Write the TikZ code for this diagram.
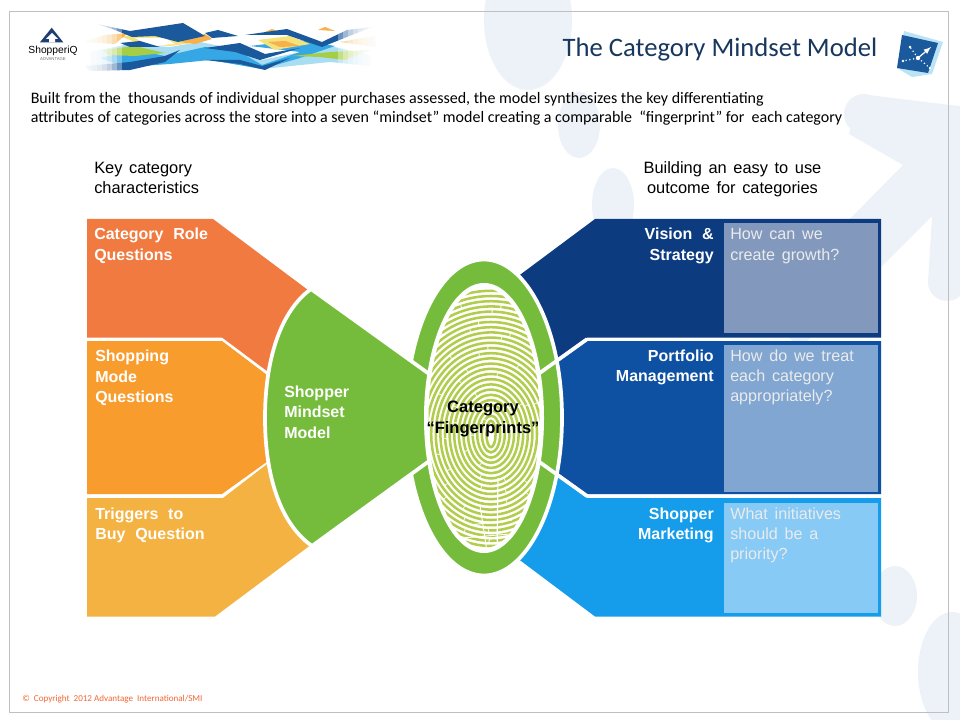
\documentclass[tikz,border=0pt]{standalone}
\usepackage{fontspec}
\setmainfont{Carlito}
\newfontfamily\arreg{Liberation Sans}
\newfontfamily\arbold[WordSpace=2.2]{Liberation Sans Bold}
\definecolor{pale}{HTML}{EDF2F8}
\definecolor{frameline}{HTML}{BFBFBF}
\definecolor{cOrA}{HTML}{F07A40}
\definecolor{cOrB}{HTML}{F99C2E}
\definecolor{cOrC}{HTML}{F4B242}
\definecolor{cGreen}{HTML}{76BC3C}
\definecolor{cBlA}{HTML}{0C3B80}
\definecolor{cBlB}{HTML}{0E50A2}
\definecolor{cBlC}{HTML}{159CEA}
\definecolor{cBoxA}{HTML}{8299BD}
\definecolor{cBoxB}{HTML}{80A6D1}
\definecolor{cBoxC}{HTML}{87CAF6}
\definecolor{cPrint}{HTML}{B2CD4E}
\definecolor{cTitle}{HTML}{17375E}
\definecolor{cNavy}{HTML}{1A5A9C}
\definecolor{cDeep}{HTML}{1F3F73}
\definecolor{cSky}{HTML}{35A7E4}
\definecolor{cIce}{HTML}{A9DDF2}
\definecolor{cAmber}{HTML}{F7B04C}
\definecolor{cLime}{HTML}{A6CE45}
\definecolor{cLemon}{HTML}{F6E27A}
\tikzset{
  x=0.75pt,y=-0.75pt,
  gaponly/.style={draw=white,line width=2.8pt,line join=miter},
  lbl/.style={inner sep=0pt,text=white,font=\arbold\fontsize{12}{15.3}\selectfont},
  lblL/.style={lbl,anchor=base west,align=left},
  lblR/.style={lbl,anchor=base east,align=right},
  ask/.style={inner sep=0pt,anchor=base west,align=left,text=white!92!black,font=\arreg\fontsize{12.1}{15.3}\selectfont,execute at begin node={\spaceskip=5.1pt\relax}},
  head/.style={inner sep=0pt,text=black,font=\arreg\fontsize{12.3}{15}\selectfont,execute at begin node={\spaceskip=4.95pt\relax}},
  ridge/.style={draw=cPrint,line width=1.9pt},
}
\begin{document}
\begin{tikzpicture}
\useasboundingbox (0,0) rectangle (960,720);
\fill[white] (0,0) rectangle (960,720);
% watermark
\begin{scope}
\clip (0,0) rectangle (960,720);
\fill[pale] (528,20) ellipse [x radius=44,y radius=70];
\fill[pale] (579,125) ellipse [x radius=21,y radius=33];
\fill[pale] (613,205) ellipse [x radius=21,y radius=37];
\fill[pale] (895,596) ellipse [x radius=22,y radius=30];
\fill[pale] (952,672) ellipse [x radius=34,y radius=60];
\fill[pale] (864,114) circle [radius=20];
\fill[pale] (947,282) circle [radius=19];
\fill[pale] (860,94) -- (975,108) -- (975,282) -- (928,282) -- (932,216) -- (903,165) -- (849,134) -- cycle;
\fill[pale] (903,165) -- (932,216) -- (800,348) -- (760,310) -- cycle;
\end{scope}
\draw[frameline,line width=0.8pt] (9.5,11.5) rectangle (948.5,712.5);
% banner
\fill[cIce] (90,52) -- (130,44) -- (170,47) -- (200,42) -- (240,50) -- (262,60) -- (330,46) -- (370,55) -- (370,66) -- (330,62) -- (262,69) -- (200,58) -- (130,68) -- (90,66) -- cycle;
\fill[cSky] (100,58) -- (135,50) -- (165,56) -- (205,47) -- (240,52) -- (262,65) -- (300,52) -- (250,46) -- (300,40) -- (335,46) -- (300,58) -- (262,69) -- (210,60) -- (170,64) -- (125,67) -- cycle;
\fill[cLemon] (120,36) -- (185,36) -- (200,42) -- (170,46) -- (140,44) -- cycle;
\fill[white] (135,38) -- (165,38) -- (175,44) -- (150,46) -- cycle;
\fill[cAmber] (85,42) -- (105,35) -- (128,33) -- (115,44) -- cycle;
\fill[cAmber] (180,42) -- (205,34) -- (212,39) -- (195,44) -- cycle;
\fill[cAmber] (265,32) -- (272,29) -- (280,32) -- cycle;
\fill[cAmber] (318,30) -- (325,27) -- (335,31) -- cycle;
\fill[cAmber] (340,42) -- (375,36) -- (375,47) -- cycle;
\fill[cLemon] (258,40) -- (290,36) -- (310,44) -- (275,50) -- cycle;
\fill[cAmber] (268,42) -- (285,41) -- (300,46) -- (280,47) -- cycle;
\fill[cLime] (102,50) -- (135,46) -- (165,53) -- (135,56) -- (108,55) -- cycle;
\fill[cLime] (292,56) -- (330,52) -- (370,50) -- (345,60) -- (320,57) -- cycle;
\fill[cNavy] (97,24) -- (130,31) -- (183,23) -- (205,36) -- (178,42) -- (155,36) -- (132,37) -- (115,30) -- cycle;
\fill[cNavy] (205,33) -- (218,30) -- (238,36) -- (212,38) -- cycle;
\fill[cNavy] (245,35) -- (287,29) -- (322,42) -- (347,30) -- (372,27) -- (322,47) -- (287,35) -- cycle;
\fill[cNavy] (120,43) -- (140,41) -- (160,47) -- (130,47) -- cycle;
\fill[cNavy] (205,48) -- (240,43) -- (265,54) -- (300,48) -- (260,60) -- (235,52) -- cycle;
\fill[cNavy] (85,66) -- (130,62) -- (165,56) -- (180,50) -- (165,62) -- (130,70) -- (90,71) -- cycle;
\fill[cNavy] (205,60) -- (240,64) -- (265,70) -- (290,58) -- (262,66) -- (240,60) -- cycle;
\foreach \i in {0,...,7}{
  \fill[white,opacity=0.35] (78,20) rectangle (122-\i*5,73);
  \fill[white,opacity=0.35] (338+\i*5,20) rectangle (380,73);
}
% logo
\fill[cDeep] (51.7,27.7) -- (63.3,42.3) -- (40,42.3) -- cycle;
\fill[white] (52,33) -- (58,39) -- (55,39) -- (55,42.5) -- (49,42.5) -- (49,39) -- (46,39) -- cycle;
\node[inner sep=0pt,anchor=base] (logoname) at (53,54) {\fontspec{Liberation Sans}\fontsize{7.7}{9}\selectfont ShopperiQ};
\node[inner sep=0pt,anchor=base,text=black!55] (logosub) at (53,61) {\fontspec{Liberation Sans}\fontsize{3.2}{4}\selectfont ADVANTAGE};
% icon
\fill[cIce!80!white] (904,31) -- (943,42) -- (932,74) -- (912,77) -- (897,68) -- cycle;
\fill[cNavy] (902,35) -- (938,43) -- (928,73) -- (897,68) -- cycle;
\draw[white,line width=0.9pt,-latex] (918,58) -- (931,47);
\draw[white,line width=0.9pt,dotted] (918,58) -- (910,47);
\draw[white,line width=0.9pt,dotted] (918,58) -- (903,61);
\draw[white,line width=0.9pt,dotted] (918,58) -- (930,68);
\fill[white] (918,58) circle [radius=2.2] (910,47) circle [radius=1.4] (903,61) circle [radius=1.4] (930,68) circle [radius=1.4];
% texts at the top
\node[inner sep=0pt,anchor=base east,text=cTitle,font=\fontsize{20}{24}\selectfont] (title) at (877.5,57) {The Category Mindset Model};
\node[inner sep=0pt,anchor=base west,text=black,align=left,font=\fontsize{12}{14.75}\selectfont] (intro) at (30.5,122.7)
 {Built from the\ \ thousands of individual shopper purchases assessed, the model synthesizes the key differentiating\\
  attributes of categories across the store into a seven “mindset” model creating a comparable\ \ “fingerprint” for\ \ each category};
\node[head,anchor=base west,align=left] (hleft) at (94,194) {Key category\\characteristics};
\node[head,anchor=base,align=center] (hright) at (732.5,194) {Building an easy to use\\outcome for categories};
% left bands
\fill[cOrA] (87,219) -- (213,219) -- (320,299) -- (275,377) -- (222,337.5) -- (87,337.5) -- cycle;
\fill[cOrB] (87,341) -- (222,341) -- (275,381) -- (275,456) -- (222,494) -- (87,494) -- cycle;
\fill[cOrC] (87,498) -- (223,498) -- (275,458) -- (320,538) -- (215,616.5) -- (87,616.5) -- cycle;
% right bands
\fill[cBlA] (505,286) -- (595,219) -- (881,219) -- (881,337.5) -- (587,337.5) -- (540,371) -- cycle;
\fill[cBlB] (540,375) -- (587,341) -- (881,341) -- (881,494) -- (587,494) -- (540,460) -- cycle;
\fill[cBlC] (540,464) -- (587,498) -- (881,498) -- (881,616.5) -- (595,616.5) -- (505,549) -- cycle;
\fill[cBoxA] (724,223) rectangle (878,333);
\fill[cBoxB] (724,345) rectangle (878,491.5);
\fill[cBoxC] (724,502.5) rectangle (878,612.5);
% ring
\filldraw[fill=cGreen,gaponly] (484,417.5) ellipse [x radius=78,y radius=158];
\draw[white,line width=2.8pt] (587,339.2) -- (540,372.8);
\draw[white,line width=2.8pt] (587,496) -- (540,462.4);
% left wedge
\filldraw[fill=cGreen,gaponly] (311,289) .. controls (278,313) and (265,365) .. (265,418) .. controls (265,471) and (278,522) .. (312,546) -- (432,459) -- (432,376) -- cycle;
% centre with print
\fill[white] (484,418) ellipse [x radius=60,y radius=135];
\begin{scope}
\clip (484,418) ellipse [x radius=55.5,y radius=130];
\foreach \i in {1,...,32}{
  \pgfmathsetmacro{\rx}{\i*4.6}
  \pgfmathsetmacro{\ry}{\i*5.2+8}
  \pgfmathsetmacro{\ph}{mod(\i*13,37)}
  \draw[ridge,dash pattern=on 70pt off 0.7pt,dash phase=\ph pt] (491,434) ellipse [x radius=\rx,y radius=\ry];
}
\draw[white,line width=0.9pt] (498,478) -- (497,552);
\draw[white,line width=0.7pt] (480,505) -- (487,552);
\draw[white,line width=0.7pt] (470,525) -- (512,520);
\draw[white,line width=0.7pt] (462,538) -- (510,534);
\end{scope}
% band labels
\node[lblL] (roleq) at (94,260.4) {Category Role\\Questions};
\node[lblL] (modeq) at (95,402.5) {Shopping\\Mode\\Questions};
\node[lblL] (trigq) at (95,539.5) {Triggers to\\Buy Question};
\node[lblL] (mindset) at (284,438) {Shopper\\Mindset\\Model};
\node[lbl,anchor=base,align=center,text=black,font=\arbold\fontsize{12.4}{15.3}\selectfont] (prints) at (483,433) {Category\\“Fingerprints”};
\node[lblR] (vision) at (714,260.4) {Vision \&\\Strategy};
\node[lblR] (portfolio) at (714,381.5) {Portfolio\\Management};
\node[lblR] (marketing) at (714,539.5) {Shopper\\Marketing};
\node[ask] (askA) at (730,260.4) {How can we\\create growth?};
\node[ask] (askB) at (730,401.8) {How do we treat\\each category\\appropriately?};
\node[ask] (askC) at (730,559.8) {What initiatives\\should be a\\priority?};
\node[inner sep=0pt,anchor=base west,text=cOrA!85!red,font=\fontsize{6.8}{8}\selectfont] (copyr) at (22,701.5) {© \ Copyright \ 2012 Advantage \ International/SMI};
\end{tikzpicture}
\end{document}
